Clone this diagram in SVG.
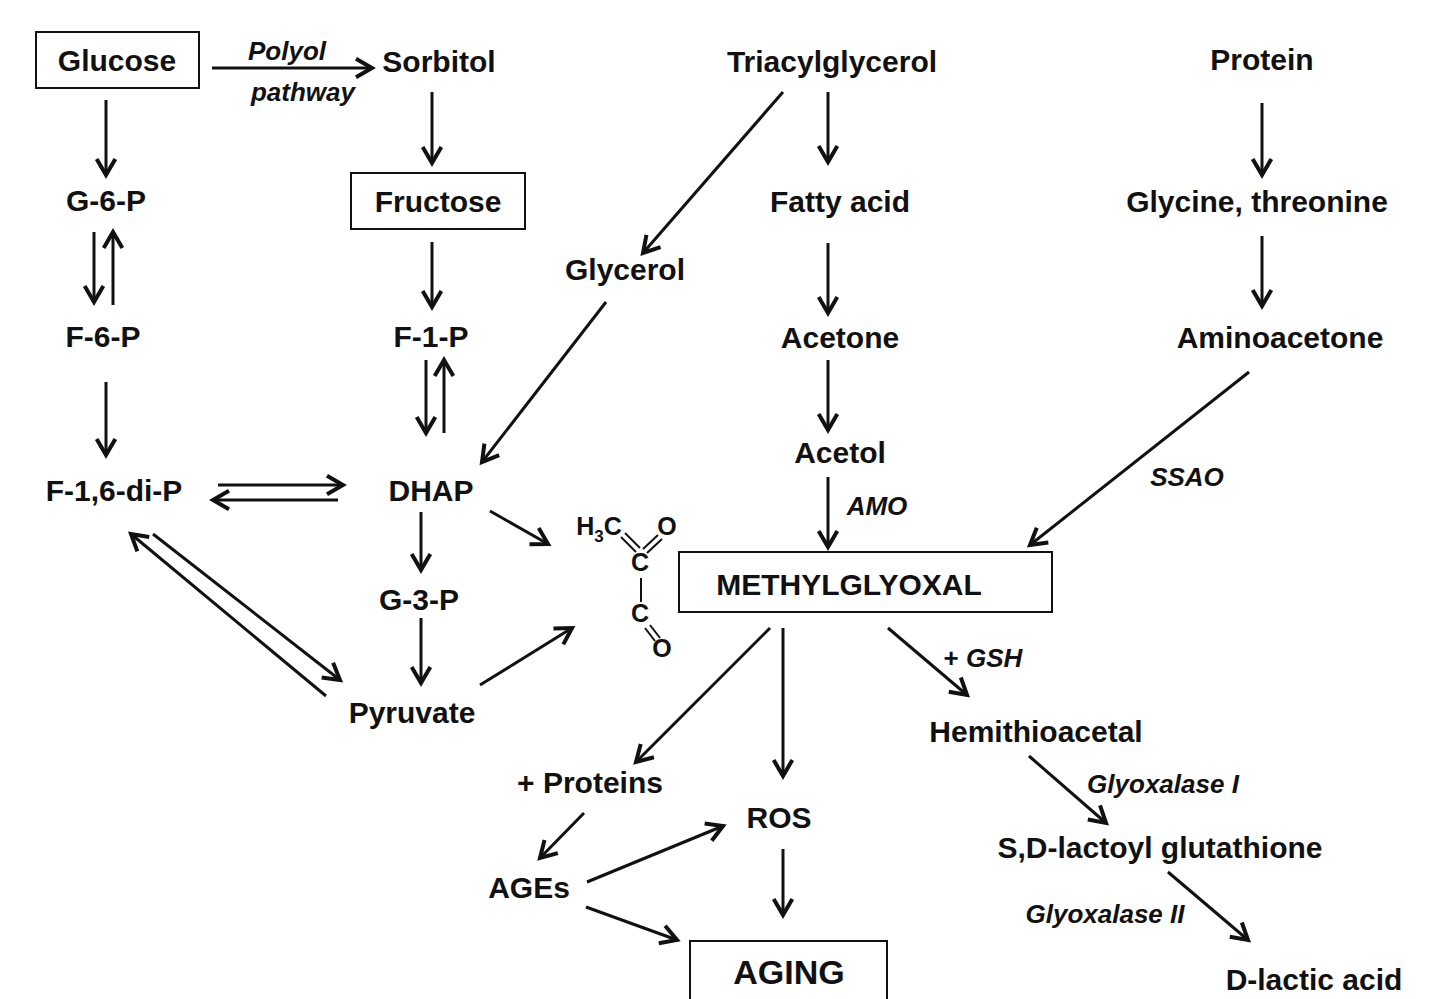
<svg xmlns="http://www.w3.org/2000/svg" width="1433" height="999" viewBox="0 0 1433 999">
<defs>
<style>
text{font-family:"Liberation Sans",Arial,sans-serif;font-weight:bold;font-size:30px;fill:#111;text-anchor:middle}
.i{font-style:italic;font-size:26px}
.s{font-size:25px}
.box{fill:none;stroke:#111;stroke-width:2}
.c line{stroke:#111;stroke-width:3;marker-end:url(#a)}
.b line{stroke:#111;stroke-width:2}
</style>
<marker id="a" markerUnits="userSpaceOnUse" markerWidth="24" markerHeight="24" refX="14" refY="9" orient="auto" viewBox="0 0 18 18">
<path d="M2,2 L14,9 L2,16" fill="none" stroke="#111" stroke-width="3"/>
</marker>
</defs>
<rect width="1433" height="999" fill="#fff"/>
<g id="glucose"><rect class="box" x="36" y="32" width="163" height="56"/><text x="117" y="71">Glucose</text></g>
<g id="polyol"><text class="i" x="287" y="60">Polyol</text><text class="i" x="303" y="101">pathway</text></g>
<g id="sorbitol"><text x="439" y="72">Sorbitol</text></g>
<g id="triacylglycerol"><text x="832" y="72">Triacylglycerol</text></g>
<g id="protein"><text x="1262" y="70">Protein</text></g>
<g id="g6p"><text x="106" y="211">G-6-P</text></g>
<g id="fructose"><rect class="box" x="351" y="173" width="174" height="56"/><text x="438" y="212">Fructose</text></g>
<g id="fattyacid"><text x="840" y="212">Fatty acid</text></g>
<g id="glycine"><text x="1257" y="212">Glycine, threonine</text></g>
<g id="glycerol"><text x="625" y="280">Glycerol</text></g>
<g id="f6p"><text x="103" y="347">F-6-P</text></g>
<g id="f1p"><text x="431" y="347">F-1-P</text></g>
<g id="acetone"><text x="840" y="348">Acetone</text></g>
<g id="aminoacetone"><text x="1280" y="348">Aminoacetone</text></g>
<g id="acetol"><text x="840" y="463">Acetol</text></g>
<g id="f16dip"><text x="114" y="501">F-1,6-di-P</text></g>
<g id="dhap"><text x="431" y="501">DHAP</text></g>
<g id="ssao"><text class="i" x="1187" y="486">SSAO</text></g>
<g id="amo"><text class="i" x="877" y="515">AMO</text></g>
<g id="methylglyoxal"><rect class="box" x="679" y="552" width="373" height="60"/><text x="849" y="595">METHYLGLYOXAL</text></g>
<g id="g3p"><text x="419" y="610">G-3-P</text></g>
<g id="pyruvate"><text x="412" y="723">Pyruvate</text></g>
<g id="gsh"><text class="i" x="983" y="667"><tspan font-style="normal">+ </tspan>GSH</text></g>
<g id="hemithioacetal"><text x="1036" y="742">Hemithioacetal</text></g>
<g id="proteins"><text x="590" y="793">+ Proteins</text></g>
<g id="glyoxalase1"><text class="i" x="1163" y="793">Glyoxalase I</text></g>
<g id="ros"><text x="779" y="828">ROS</text></g>
<g id="sdlactoyl"><text x="1160" y="858">S,D-lactoyl glutathione</text></g>
<g id="ages"><text x="529" y="898">AGEs</text></g>
<g id="glyoxalase2"><text class="i" x="1105" y="923">Glyoxalase II</text></g>
<g id="aging"><rect class="box" x="690" y="941" width="197" height="70"/><text x="789" y="984" style="font-size:34px">AGING</text></g>
<g id="dlactic"><text x="1314" y="990">D-lactic acid</text></g>
<g id="structure">
<text class="s" x="599" y="535">H<tspan font-size="17" dy="7">3</tspan><tspan dy="-7">C</tspan></text>
<text class="s" x="667" y="535">O</text>
<text class="s" x="640" y="571">C</text>
<text class="s" x="640" y="622">C</text>
<text class="s" x="662" y="657">O</text>
<g class="b">
<line x1="621" y1="537" x2="636" y2="552"/><line x1="625" y1="533" x2="640" y2="548"/>
<line x1="643" y1="549" x2="658" y2="535"/><line x1="647" y1="553" x2="662" y2="539"/>
<line x1="641" y1="578" x2="641" y2="602"/>
<line x1="645" y1="628" x2="655" y2="641"/><line x1="650" y1="625" x2="660" y2="638"/>
</g>
</g>
<g id="connectors" class="c">
<line x1="212" y1="68" x2="372" y2="68"/>
<line x1="106" y1="100" x2="106" y2="175"/>
<line x1="94" y1="232" x2="94" y2="302"/>
<line x1="113" y1="305" x2="113" y2="232"/>
<line x1="106" y1="382" x2="106" y2="455"/>
<line x1="432" y1="92" x2="432" y2="163"/>
<line x1="432" y1="242" x2="432" y2="307"/>
<line x1="426" y1="360" x2="426" y2="433"/>
<line x1="444" y1="433" x2="444" y2="360"/>
<line x1="783" y1="92" x2="643" y2="253"/>
<line x1="828" y1="92" x2="828" y2="162"/>
<line x1="606" y1="302" x2="482" y2="462"/>
<line x1="828" y1="243" x2="828" y2="313"/>
<line x1="828" y1="360" x2="828" y2="430"/>
<line x1="828" y1="477" x2="828" y2="547"/>
<line x1="1262" y1="103" x2="1262" y2="175"/>
<line x1="1262" y1="236" x2="1262" y2="306"/>
<line x1="1249" y1="372" x2="1030" y2="545"/>
<line x1="218" y1="485" x2="343" y2="485"/>
<line x1="338" y1="500" x2="213" y2="500"/>
<line x1="153" y1="534" x2="340" y2="680"/>
<line x1="326" y1="696" x2="131" y2="534"/>
<line x1="421" y1="512" x2="421" y2="570"/>
<line x1="421" y1="618" x2="421" y2="683"/>
<line x1="490" y1="511" x2="548" y2="544"/>
<line x1="480" y1="685" x2="572" y2="628"/>
<line x1="770" y1="628" x2="636" y2="762"/>
<line x1="783" y1="628" x2="783" y2="776"/>
<line x1="888" y1="628" x2="967" y2="695"/>
<line x1="584" y1="813" x2="540" y2="858"/>
<line x1="587" y1="882" x2="723" y2="826"/>
<line x1="586" y1="907" x2="677" y2="940"/>
<line x1="783" y1="849" x2="783" y2="915"/>
<line x1="1029" y1="756" x2="1106" y2="823"/>
<line x1="1168" y1="872" x2="1248" y2="940"/>
</g>
</svg>
